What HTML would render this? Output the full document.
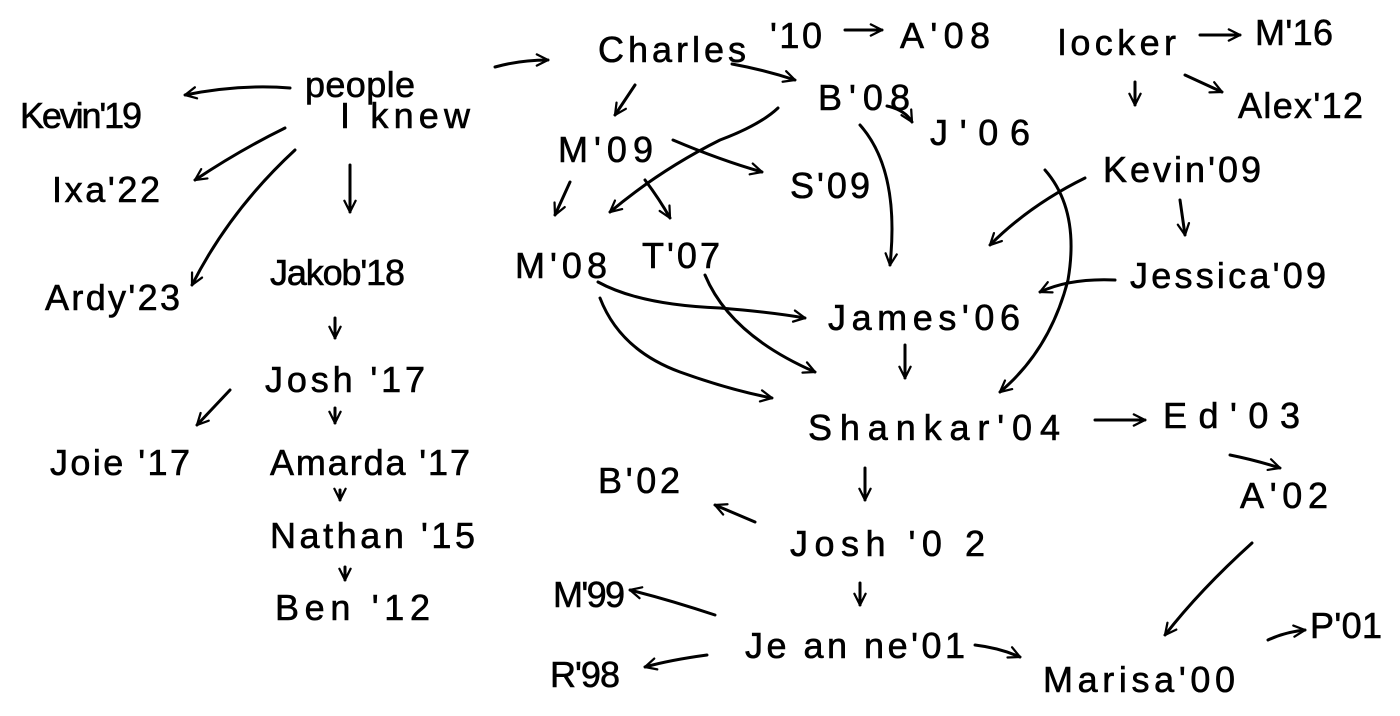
<!DOCTYPE html>
<html><head><meta charset="utf-8"><style>
html,body{margin:0;padding:0;background:#fff}
svg{display:block}
text{font-family:"Liberation Sans",sans-serif;fill:#000;font-size:36px;stroke:#000;stroke-width:0.6}
path{fill:none;stroke:#000;stroke-width:3;stroke-linecap:round;stroke-linejoin:round}
</style></head><body>
<svg width="1400" height="716" viewBox="0 0 1400 716">
<defs><marker id="a" viewBox="0 0 10 10" refX="9" refY="5" markerWidth="14" markerHeight="14" markerUnits="userSpaceOnUse" orient="auto"><path d="M1 1 L9 5 L1 9" style="stroke-width:1.6"/></marker></defs>
<g>
<text x="305" y="97" textLength="110">people</text>
<text x="340" y="128" textLength="130">I knew</text>
<text x="20" y="128" textLength="122" font-size="30">Kevin'19</text>
<text x="52" y="202" textLength="108" font-size="32">Ixa'22</text>
<text x="45" y="310" textLength="135" font-size="32">Ardy'23</text>
<text x="270" y="285" textLength="135">Jakob'18</text>
<text x="265" y="392" textLength="160" font-size="40">Josh '17</text>
<text x="50" y="475" textLength="140">Joie '17</text>
<text x="270" y="475" textLength="200" font-size="38">Amarda '17</text>
<text x="270" y="548" textLength="205" font-size="38">Nathan '15</text>
<text x="275" y="620" textLength="155" font-size="38">Ben '12</text>
<text x="598" y="62" textLength="148" font-size="40">Charles</text>
<text x="770" y="48" textLength="52" font-size="38">'10</text>
<text x="900" y="48" textLength="90" font-size="38">A'08</text>
<text x="1058" y="55" textLength="118" font-size="38">locker</text>
<text x="1255" y="45" textLength="78" font-size="34">M'16</text>
<text x="818" y="110" textLength="92" font-size="36">B'08</text>
<text x="930" y="145" textLength="100" font-size="38">J'06</text>
<text x="1238" y="118" textLength="125" font-size="36">Alex'12</text>
<text x="558" y="162" textLength="95" font-size="34">M'09</text>
<text x="790" y="198" textLength="80" font-size="34">S'09</text>
<text x="1103" y="182" textLength="158" font-size="36">Kevin'09</text>
<text x="515" y="278" textLength="92" font-size="38">M'08</text>
<text x="642" y="268" textLength="78" font-size="38">T'07</text>
<text x="1130" y="288" textLength="196" font-size="40">Jessica'09</text>
<text x="828" y="330" textLength="192" font-size="42">James'06</text>
<text x="808" y="440" textLength="252" font-size="44">Shankar'04</text>
<text x="1163" y="428" textLength="137" font-size="40">Ed'03</text>
<text x="1240" y="508" textLength="88" font-size="40">A'02</text>
<text x="598" y="493" textLength="82" font-size="34">B'02</text>
<text x="790" y="556" textLength="195" font-size="44">Josh '0 2</text>
<text x="553" y="607" textLength="72" font-size="34">M'99</text>
<text x="550" y="687" textLength="70" font-size="34">R'98</text>
<text x="745" y="658" textLength="220" font-size="40">Je an ne'01</text>
<text x="1043" y="692" textLength="192" font-size="38">Marisa'00</text>
<text x="1310" y="638" textLength="72" font-size="34">P'01</text>
</g>
<g marker-end="url(#a)">
<path d="M290 88 Q240 84 185 95"/>
<path d="M285 128 Q240 150 195 180"/>
<path d="M295 150 Q230 210 192 285"/>
<path d="M350 165 L350 212"/>
<path d="M495 67 Q520 60 548 60"/>
<path d="M335 318 L335 338"/>
<path d="M230 390 L197 425"/>
<path d="M335 408 L335 423"/>
<path d="M340 490 L340 500"/>
<path d="M345 567 L345 580"/>
<path d="M732 64 Q765 70 795 80"/>
<path d="M635 85 L615 115"/>
<path d="M845 30 L882 30"/>
<path d="M887 106 Q905 110 912 122"/>
<path d="M778 108 Q760 125 720 140 Q660 170 610 212"/>
<path d="M673 140 Q720 160 762 172"/>
<path d="M570 182 L555 215"/>
<path d="M645 180 Q660 200 670 218"/>
<path d="M860 125 Q900 170 890 265"/>
<path d="M1045 170 Q1080 210 1068 280 Q1050 350 1000 392"/>
<path d="M1085 178 Q1030 205 990 245"/>
<path d="M1180 200 L1185 235"/>
<path d="M1115 280 Q1070 278 1040 292"/>
<path d="M1135 82 L1135 105"/>
<path d="M1185 75 L1222 92"/>
<path d="M1200 35 L1240 35"/>
<path d="M598 282 Q640 305 720 308 Q770 312 805 318"/>
<path d="M600 298 Q620 350 680 372 Q730 390 772 398"/>
<path d="M705 275 Q730 335 815 372"/>
<path d="M905 345 L905 378"/>
<path d="M1095 420 L1145 420"/>
<path d="M1230 455 Q1255 460 1280 468"/>
<path d="M865 468 L865 500"/>
<path d="M755 522 L715 505"/>
<path d="M860 583 L860 605"/>
<path d="M715 615 Q670 600 630 590"/>
<path d="M707 655 Q670 660 645 667"/>
<path d="M975 645 Q1000 648 1020 657"/>
<path d="M1252 543 Q1200 590 1165 635"/>
<path d="M1268 640 Q1285 632 1305 630"/>
</g>
</svg>
</body></html>
